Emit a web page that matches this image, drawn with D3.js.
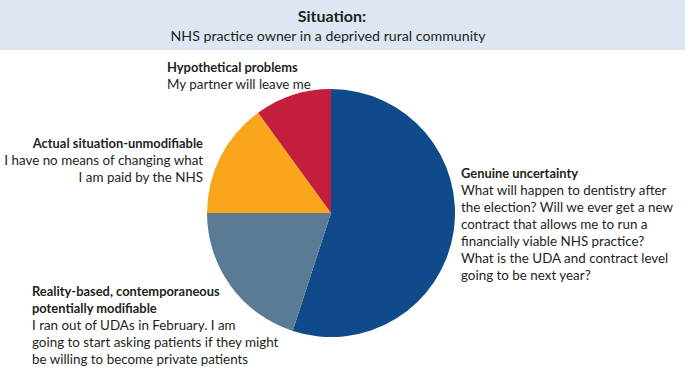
<!DOCTYPE html>
<html><head><meta charset="utf-8">
<script src="https://cdn.jsdelivr.net/npm/d3@7"></script>
<style>body{margin:0;background:#fff}svg{display:block}text{font-family:Lato,"Open Sans",sans-serif;fill:#231f20}</style>
</head><body><svg id="c" width="685" height="382"></svg>
<script>
const categories = ["Genuine uncertainty","Reality-based, contemporaneous potentially modifiable","Actual situation-unmodifiable","Hypothetical problems"];
const values = [55, 20, 15, 10];
const colors = ["#0f4a8a","#5a7b93","#f9a61d","#c41e3e"];
const titleLines = ["Situation:", "NHS practice owner in a deprived rural community"];
const labelTitles = [["Genuine uncertainty"],["Reality-based, contemporaneous","potentially modifiable"],["Actual situation-unmodifiable"],["Hypothetical problems"]];
const labelBodies = [
 ["What will happen to dentistry after","the election? Will we ever get a new","contract that allows me to run a","financially viable NHS practice?","What is the UDA and contract level","going to be next year?"],
 ["I ran out of UDAs in February. I am","going to start asking patients if they might","be willing to become private patients"],
 ["I have no means of changing what","I am paid by the NHS"],
 ["My partner will leave me"]
];

const svg = d3.select("#c");
svg.append("rect").attr("x",0).attr("y",0).attr("width",685).attr("height",50).attr("fill","#dde7f3");
svg.append("text").attr("x",332).attr("y",22).attr("text-anchor","middle").attr("font-weight","bold").attr("font-size",16).text(titleLines[0]);
svg.append("text").attr("x",328).attr("y",41).attr("text-anchor","middle").attr("font-size",14.2).text(titleLines[1]);

const cx = 331, cy = 213, r = 124;
const pie = d3.pie().sort(null).value(d=>d);
const arc = d3.arc().innerRadius(0).outerRadius(r);
const g = svg.append("g").attr("transform",`translate(${cx},${cy})`);
g.selectAll("path").data(pie(values)).enter().append("path").attr("d",arc).attr("fill",(d,i)=>colors[i]);

const labelPos = [
 {x:461,y:178,anchor:"start"},
 {x:32,y:296,anchor:"start"},
 {x:203,y:148,anchor:"end"},
 {x:167,y:72,anchor:"start"}
];
const lh = 17;
labelPos.forEach((p,i)=>{
  const t = svg.append("text").attr("text-anchor",p.anchor).attr("font-size",13.4);
  let k=0;
  labelTitles[i].forEach(s=>{t.append("tspan").attr("x",p.x).attr("y",p.y+lh*k).attr("font-weight","bold").attr("font-size",12.9).text(s);k++;});
  labelBodies[i].forEach(s=>{t.append("tspan").attr("x",p.x).attr("y",p.y+lh*k).text(s);k++;});
});
</script></body></html>
